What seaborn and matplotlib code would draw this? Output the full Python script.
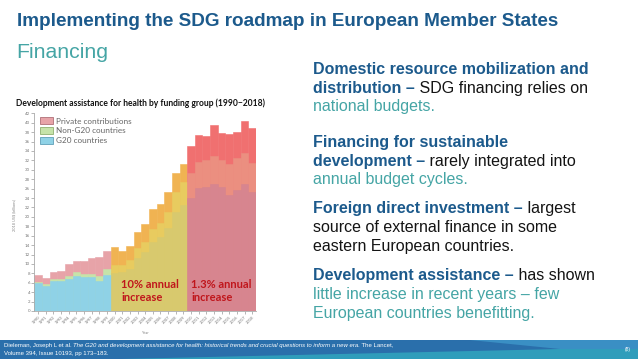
import matplotlib
matplotlib.use("Agg")
import matplotlib.pyplot as plt
import matplotlib.patches as mpatches
import numpy as np
import pandas as pd
import seaborn as sns

# ---------------- data ----------------
years = list(range(1990, 2019))
g20 = [5.9, 5.4, 6.3, 6.3, 6.9, 7.5, 7.3, 7.3, 6.4, 7.6,
       8.0, 8.3, 9.0, 11.2, 12.6, 14.7, 15.8, 17.7, 21.0, 22.5,
       24.1, 26.1, 26.4, 26.9, 26.4, 24.6, 25.7, 27.0, 25.3]
non_g20 = [0.3, 0.3, 0.4, 0.4, 0.6, 0.7, 0.5, 0.5, 1.0, 1.4,
           1.75, 1.45, 1.8, 2.2, 2.1, 2.8, 2.8, 3.4, 4.3, 4.8,
           5.3, 5.6, 5.6, 6.0, 5.6, 6.7, 6.7, 6.6, 6.1]
private = [1.5, 1.4, 1.6, 1.9, 2.5, 2.4, 2.8, 3.5, 4.0, 3.8,
           3.75, 3.05, 3.05, 3.4, 3.7, 4.1, 4.1, 4.2, 4.1, 3.9,
           5.6, 5.6, 5.2, 6.7, 5.9, 6.2, 5.6, 6.7, 7.5]
periods = ["1990s"] * 10 + ["2000s"] * 10 + ["2010s"] * 9
legend_labels = ["Private contributions", "Non-G20 countries", "G20 countries"]
annotations = ["10% annual\nincrease", "1.3% annual\nincrease"]

pal_g20 = {"1990s": "#8fd2e6", "2000s": "#d8c96e", "2010s": "#d7858f"}
pal_non = {"1990s": "#c6e3a9", "2000s": "#e8cb5f", "2010s": "#eb8f80"}
pal_pri = {"1990s": "#e7a3a8", "2000s": "#f0b352", "2010s": "#f07070"}

df = pd.DataFrame({"year": [str(y) for y in years], "g20": g20,
                   "non": non_g20, "pri": private, "period": periods})
df["lvl2"] = df["g20"] + df["non"]
df["lvl3"] = df["lvl2"] + df["pri"]

W, H = 638, 359
sns.set_theme(style="white")
plt.rcParams["font.family"] = ["Liberation Sans", "DejaVu Sans"]

fig = plt.figure(figsize=(W / 100, H / 100), dpi=100)
fig.patch.set_facecolor("white")

def fx(x):
    return x / W

def fy(y):
    return 1 - y / H

ax = fig.add_axes([fx(34.3), fy(311), fx(256) - fx(34.3), (311 - 113.3) / H])
order = [str(y) for y in years]
for col, pal in (("lvl3", pal_pri), ("lvl2", pal_non), ("g20", pal_g20)):
    sns.barplot(data=df, x="year", y=col, hue="period", palette=pal,
                order=order, dodge=False, width=1.0, linewidth=0,
                saturation=1, legend=False, ax=ax)
for p in ax.patches:
    p.set_edgecolor(p.get_facecolor())
    p.set_linewidth(0.4)

ax.set_xlim(-0.5, len(years) - 0.5)
ax.set_ylim(0, 42)
ax.set_yticks(np.arange(0, 43, 2))
ax.set_yticklabels([str(v) for v in range(0, 43, 2)], fontsize=3.2,
                   color="#777777", family="Lato")
ax.set_xticks(range(len(years)))
ax.set_xticklabels(order, rotation=45, ha="right", rotation_mode="anchor",
                   fontsize=3.0, color="#777777", family="Lato")
ax.tick_params(axis="both", which="both", direction="out", length=2,
               width=0.5, color="#999999", pad=1, left=True, bottom=True)
for s in ("top", "right"):
    ax.spines[s].set_visible(False)
for s in ("left", "bottom"):
    ax.spines[s].set_color("#aaaaaa")
    ax.spines[s].set_linewidth(0.6)
ax.set_xlabel("")
ax.set_ylabel("")

handles = [mpatches.Patch(facecolor="#e7a3a8", edgecolor="#b07078", linewidth=0.6),
           mpatches.Patch(facecolor="#c6e3a9", edgecolor="#90b070", linewidth=0.6),
           mpatches.Patch(facecolor="#8fd2e6", edgecolor="#60a0b8", linewidth=0.6)]
leg = ax.legend(handles, legend_labels, loc="upper left",
                bbox_to_anchor=(0.005, 1.005), frameon=False,
                prop={"family": "Lato", "size": 5.9}, labelcolor="#666666",
                handlelength=1.5, handleheight=0.95, handletextpad=0.45,
                labelspacing=0.3, borderaxespad=0.2)

# period annotations
ax.text(10.85, 4.3, annotations[0], fontsize=8.0, fontweight="bold",
        color="#c0161c", family="Lato", va="center", ha="left", linespacing=1.2)
ax.text(20.05, 4.3, annotations[1], fontsize=8.0, fontweight="bold",
        color="#c0161c", family="Lato", va="center", ha="left", linespacing=1.2)

fig.text(fx(14), fy(215), "2018 US$ (billions)", rotation=90, fontsize=2.8,
         color="#888888", ha="center", va="center", family="Lato")
fig.text(fx(145), fy(333), "Year", fontsize=2.8, color="#888888",
         ha="center", va="center", family="Lato")

fig.text(fx(16), fy(103), "Development assistance for health by funding group (1990\u22122018)",
         fontsize=6.15, fontweight="bold", color="#111111", family="Lato",
         va="center", ha="left")

# slide header
DARK = "#1c5a8c"
TEAL = "#45a5a5"
BLACK = "#141414"
fig.text(fx(17), fy(22), "Implementing the SDG roadmap in European Member States",
         fontsize=13.6, fontweight="bold", color=DARK, va="center", ha="left")
fig.text(fx(16), fy(52), "Financing", fontsize=15.3, color=TEAL,
         va="center", ha="left")

renderer = fig.canvas.get_renderer()

def runs(x, y, parts, size, **kw):
    cx = x
    for txt, color, weight, style in parts:
        t = fig.text(fx(cx), fy(y), txt, fontsize=size, color=color,
                     fontweight=weight, fontstyle=style, va="baseline",
                     ha="left", **kw)
        bb = t.get_window_extent(renderer=renderer)
        cx += bb.width
    return cx

FS = 11.5
lines = [
    (69, [("Domestic resource mobilization and", DARK, "bold", "normal")]),
    (88, [("distribution \u2013", DARK, "bold", "normal"),
          (" SDG financing relies on", BLACK, "normal", "normal")]),
    (106, [("national budgets.", TEAL, "normal", "normal")]),
    (142, [("Financing for sustainable", DARK, "bold", "normal")]),
    (161, [("development \u2013", DARK, "bold", "normal"),
           (" rarely integrated into", BLACK, "normal", "normal")]),
    (179, [("annual budget cycles.", TEAL, "normal", "normal")]),
    (208, [("Foreign direct investment \u2013", DARK, "bold", "normal"),
           (" largest", BLACK, "normal", "normal")]),
    (227, [("source of external finance in some", BLACK, "normal", "normal")]),
    (246, [("eastern European countries.", BLACK, "normal", "normal")]),
    (275, [("Development assistance \u2013", DARK, "bold", "normal"),
           (" has shown", BLACK, "normal", "normal")]),
    (294, [("little increase in recent years \u2013 few", TEAL, "normal", "normal")]),
    (313, [("European countries benefitting.", TEAL, "normal", "normal")]),
]
for y, parts in lines:
    runs(313, y + 5, parts, FS)

# footer band
fig.add_artist(mpatches.Rectangle((0, 0), 1, 19.5 / H, transform=fig.transFigure,
                                  facecolor="#2a6fab", edgecolor="none", zorder=0))
fig.add_artist(mpatches.Polygon([(fx(120), 0), (fx(560), fy(349)), (fx(638), fy(349)),
                                 (fx(638), 0)], closed=True, transform=fig.transFigure,
                                facecolor="#2f9dbb", edgecolor="none", zorder=0))
fig.add_artist(mpatches.Polygon([(fx(470), fy(340)), (fx(638), fy(340)), (fx(638), fy(349)),
                                 (fx(560), fy(349))], closed=True, transform=fig.transFigure,
                                facecolor="#3a8fc4", edgecolor="none", zorder=0))
FF = 4.3
runs(4, 346.5, [("Dieleman, Joseph L et al. ", "white", "normal", "normal"),
                ("The G20 and development assistance for health: historical trends and crucial questions to inform a new era.",
                 "white", "normal", "italic"),
                (" The Lancet,", "white", "normal", "normal")], FF, zorder=2)
runs(4, 355.5, [("Volume 394, Issue 10193, pp 173\u2013183.", "white", "normal", "normal")], FF, zorder=2)
fig.text(fx(628), fy(349), "(8)", fontsize=3.5, color="white", ha="center",
         va="center", zorder=2)

fig.savefig("out.png", dpi=100, facecolor="white")
